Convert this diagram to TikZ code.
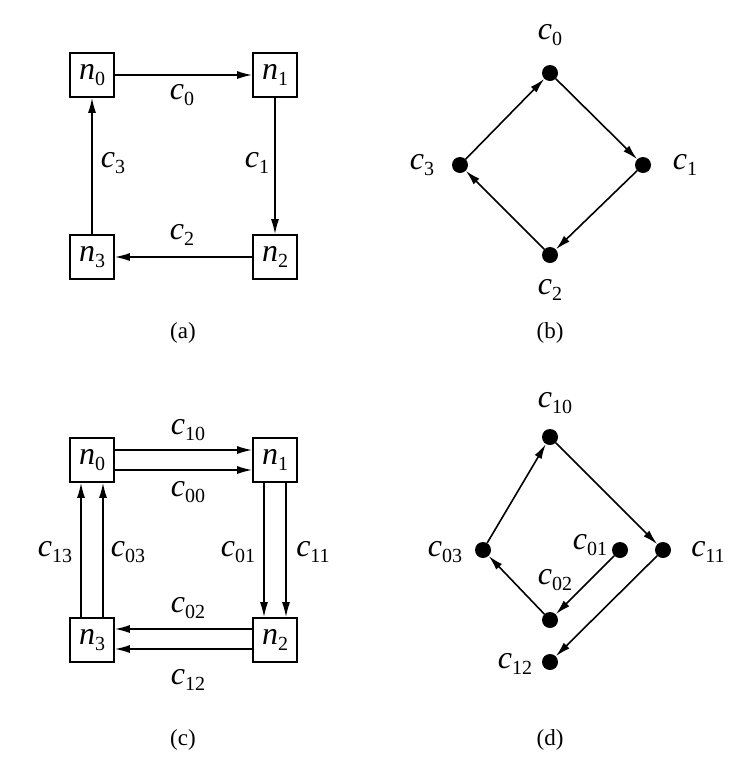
\documentclass[tikz,border=0pt]{standalone}
\usepackage{fontspec}
\setmainfont{Liberation Serif}
\usetikzlibrary{arrows.meta}
\newcommand{\vv}[2]{\textit{#1}\raisebox{-6pt}{\fontsize{20}{22}\selectfont #2}}
\begin{document}
\begin{tikzpicture}[x=1pt,y=-1pt,
  box/.style={draw,line width=1.6pt,minimum size=44pt,inner sep=0pt,font=\fontsize{32}{34}\selectfont},
  lab/.style={font=\fontsize{32}{34}\selectfont},
  captxt/.style={font=\fontsize{23}{26}\selectfont},
  dot/.style={circle,fill=black,minimum size=16pt,inner sep=0pt},
  arr/.style={-{Latex[length=15pt,width=8pt]},line width=1.6pt}]
\useasboundingbox (0,0) rectangle (747,764);
% (a)
\node[box] (a0) at (92,75) {\vv{n}{0}};
\node[box] (a1) at (275,75) {\vv{n}{1}};
\node[box] (a3) at (92,257) {\vv{n}{3}};
\node[box] (a2) at (275,257) {\vv{n}{2}};
\draw[arr] (a0) -- (a1);
\draw[arr] (a1) -- (a2);
\draw[arr] (a2) -- (a3);
\draw[arr] (a3) -- (a0);
\node[lab] (la0) at (182,95) {\vv{c}{0}};
\node[lab] (la1) at (257,163) {\vv{c}{1}};
\node[lab] (la2) at (182,235) {\vv{c}{2}};
\node[lab] (la3) at (113,163) {\vv{c}{3}};
\node[captxt] (capa) at (183,333) {(a)};
% (b)
\node[dot] (b0) at (550,73) {};
\node[dot] (b1) at (643,165) {};
\node[dot] (b2) at (550,255) {};
\node[dot] (b3) at (460,165) {};
\draw[arr] (b3) -- (b0);
\draw[arr] (b0) -- (b1);
\draw[arr] (b1) -- (b2);
\draw[arr] (b2) -- (b3);
\node[lab] (lb0) at (550,35) {\vv{c}{0}};
\node[lab] (lb1) at (685,165) {\vv{c}{1}};
\node[lab] (lb2) at (550,290) {\vv{c}{2}};
\node[lab] (lb3) at (422,165) {\vv{c}{3}};
\node[captxt] (capb) at (550,333) {(b)};
% (c)
\node[box] (c0) at (92,460) {\vv{n}{0}};
\node[box] (c1) at (275,460) {\vv{n}{1}};
\node[box] (c3) at (92,640) {\vv{n}{3}};
\node[box] (c2) at (275,640) {\vv{n}{2}};
\draw[arr] ([yshift=-10pt]c0.east) -- ([yshift=-10pt]c1.west);
\draw[arr] ([yshift=10pt]c0.east) -- ([yshift=10pt]c1.west);
\draw[arr] ([xshift=-11pt]c1.south) -- ([xshift=-11pt]c2.north);
\draw[arr] ([xshift=11pt]c1.south) -- ([xshift=11pt]c2.north);
\draw[arr] ([yshift=-9pt]c2.west) -- ([yshift=-9pt]c3.east);
\draw[arr] ([yshift=11pt]c2.west) -- ([yshift=11pt]c3.east);
\draw[arr] ([xshift=-11pt]c3.north) -- ([xshift=-11pt]c0.south);
\draw[arr] ([xshift=11pt]c3.north) -- ([xshift=11pt]c0.south);
\node[lab] (lc10) at (188,430) {\vv{c}{10}};
\node[lab] (lc00) at (188,492) {\vv{c}{00}};
\node[lab] (lc01) at (238,552) {\vv{c}{01}};
\node[lab] (lc11) at (313,552) {\vv{c}{11}};
\node[lab] (lc02) at (188,608) {\vv{c}{02}};
\node[lab] (lc12) at (188,680) {\vv{c}{12}};
\node[lab] (lc13) at (55,552) {\vv{c}{13}};
\node[lab] (lc03) at (128,552) {\vv{c}{03}};
\node[captxt] (capc) at (183,740) {(c)};
% (d)
\node[dot] (d10) at (550,437) {};
\node[dot] (d11) at (663,550) {};
\node[dot] (d03) at (483,550) {};
\node[dot] (d01) at (620,550) {};
\node[dot] (d02) at (550,620) {};
\node[dot] (d12) at (550,662) {};
\draw[arr] (d03) -- (d10);
\draw[arr] (d10) -- (d11);
\draw[arr] (d11) -- (d12);
\draw[arr] (d02) -- (d03);
\draw[arr] (d01) -- (d02);
\node[lab] (ld10) at (555,403) {\vv{c}{10}};
\node[lab] (ld11) at (708,552) {\vv{c}{11}};
\node[lab] (ld03) at (445,552) {\vv{c}{03}};
\node[lab] (ld01) at (590,545) {\vv{c}{01}};
\node[lab] (ld02) at (555,580) {\vv{c}{02}};
\node[lab] (ld12) at (515,664) {\vv{c}{12}};
\node[captxt] (capd) at (550,740) {(d)};
\end{tikzpicture}
\end{document}
